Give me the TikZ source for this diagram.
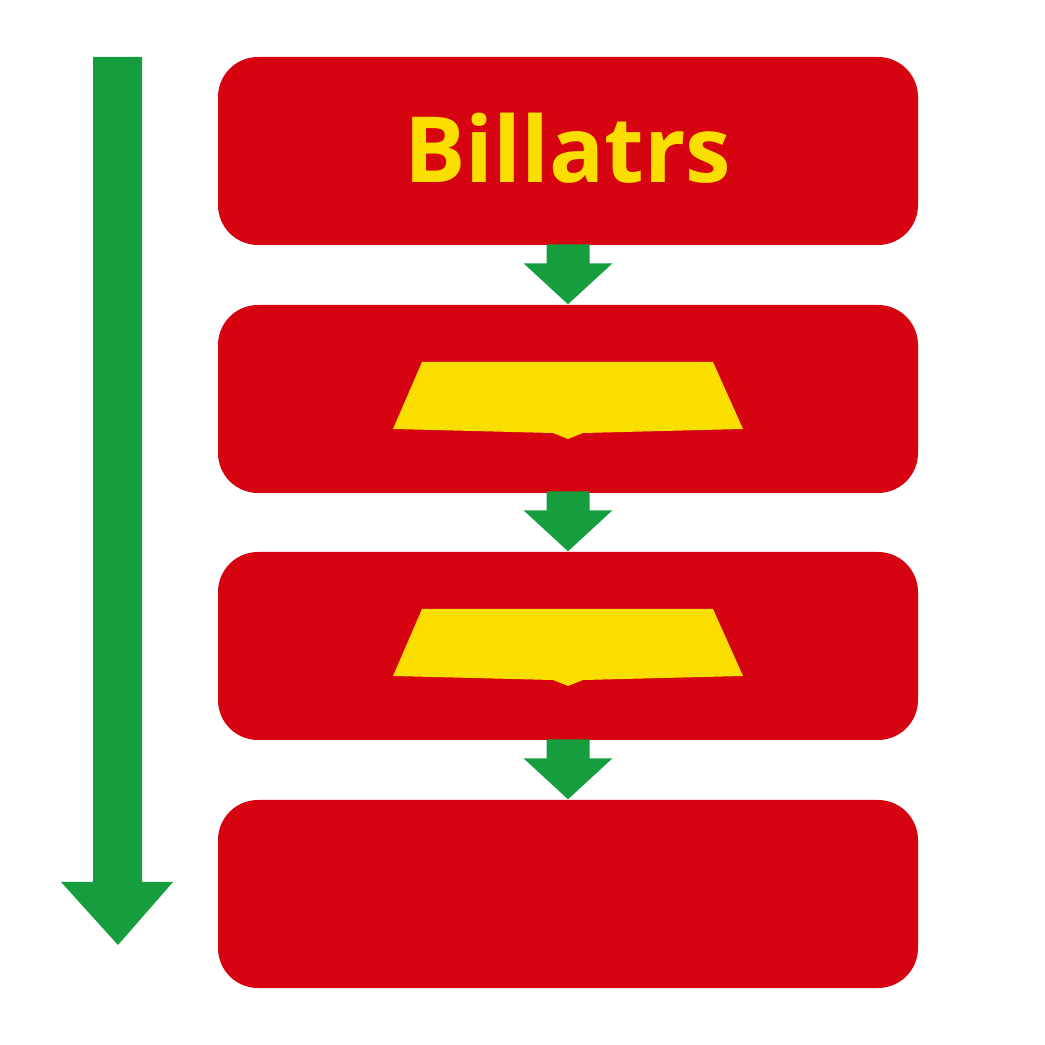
\documentclass[tikz,border=0pt]{standalone}
\usepackage{fontspec}
\setmainfont{Open Sans}
\usepackage{tikz}
\definecolor{boxred}{RGB}{214,4,16}
\definecolor{markyellow}{RGB}{250,222,0}
\definecolor{flowgreen}{RGB}{22,158,62}
\tikzset{
  stage/.style={rectangle, rounded corners=0.4cm, fill=boxred,
    minimum width=7cm, minimum height=1.88cm, inner sep=0pt},
  banner/.style={fill=markyellow},
}
\begin{document}
\begin{tikzpicture}
\useasboundingbox (0,0) rectangle (10.45,10.45);
% the four stages
\node[stage] (s1) at (5.68,8.94) {\fontsize{26}{30}\selectfont\bfseries\color{markyellow}\raisebox{0.06cm}{Billatrs}};
\node[stage] (s2) at (5.68,6.46) {};
\node[stage] (s3) at (5.68,3.99) {};
\node[stage] (s4) at (5.68,1.51) {};
% small arrows between stages
\foreach \a/\b in {s1/s2,s2/s3,s3/s4}
  \fill[flowgreen] (\b.north) -- ++(-0.445,0.41) -- ++(0.23,0) -- ++(0,0.19)
    -- ++(0.43,0) -- ++(0,-0.19) -- ++(0.23,0) -- cycle;
% yellow marks
\foreach \s in {s2,s3}
  \fill[banner, shift={(\s.center)}] (-1.46,0.37) -- (1.45,0.37) -- (1.75,-0.30)
    -- (0.15,-0.34) -- (0,-0.40) -- (-0.15,-0.34) -- (-1.75,-0.30) -- cycle;
% long arrow on the left
\coordinate (tip) at (1.18,1.00);
\fill[flowgreen] (tip) -- ++(-0.57,0.63) -- ++(0.32,0) -- ++(0,8.25)
  -- ++(0.49,0) -- ++(0,-8.25) -- ++(0.31,0) -- cycle;
\end{tikzpicture}
\end{document}
